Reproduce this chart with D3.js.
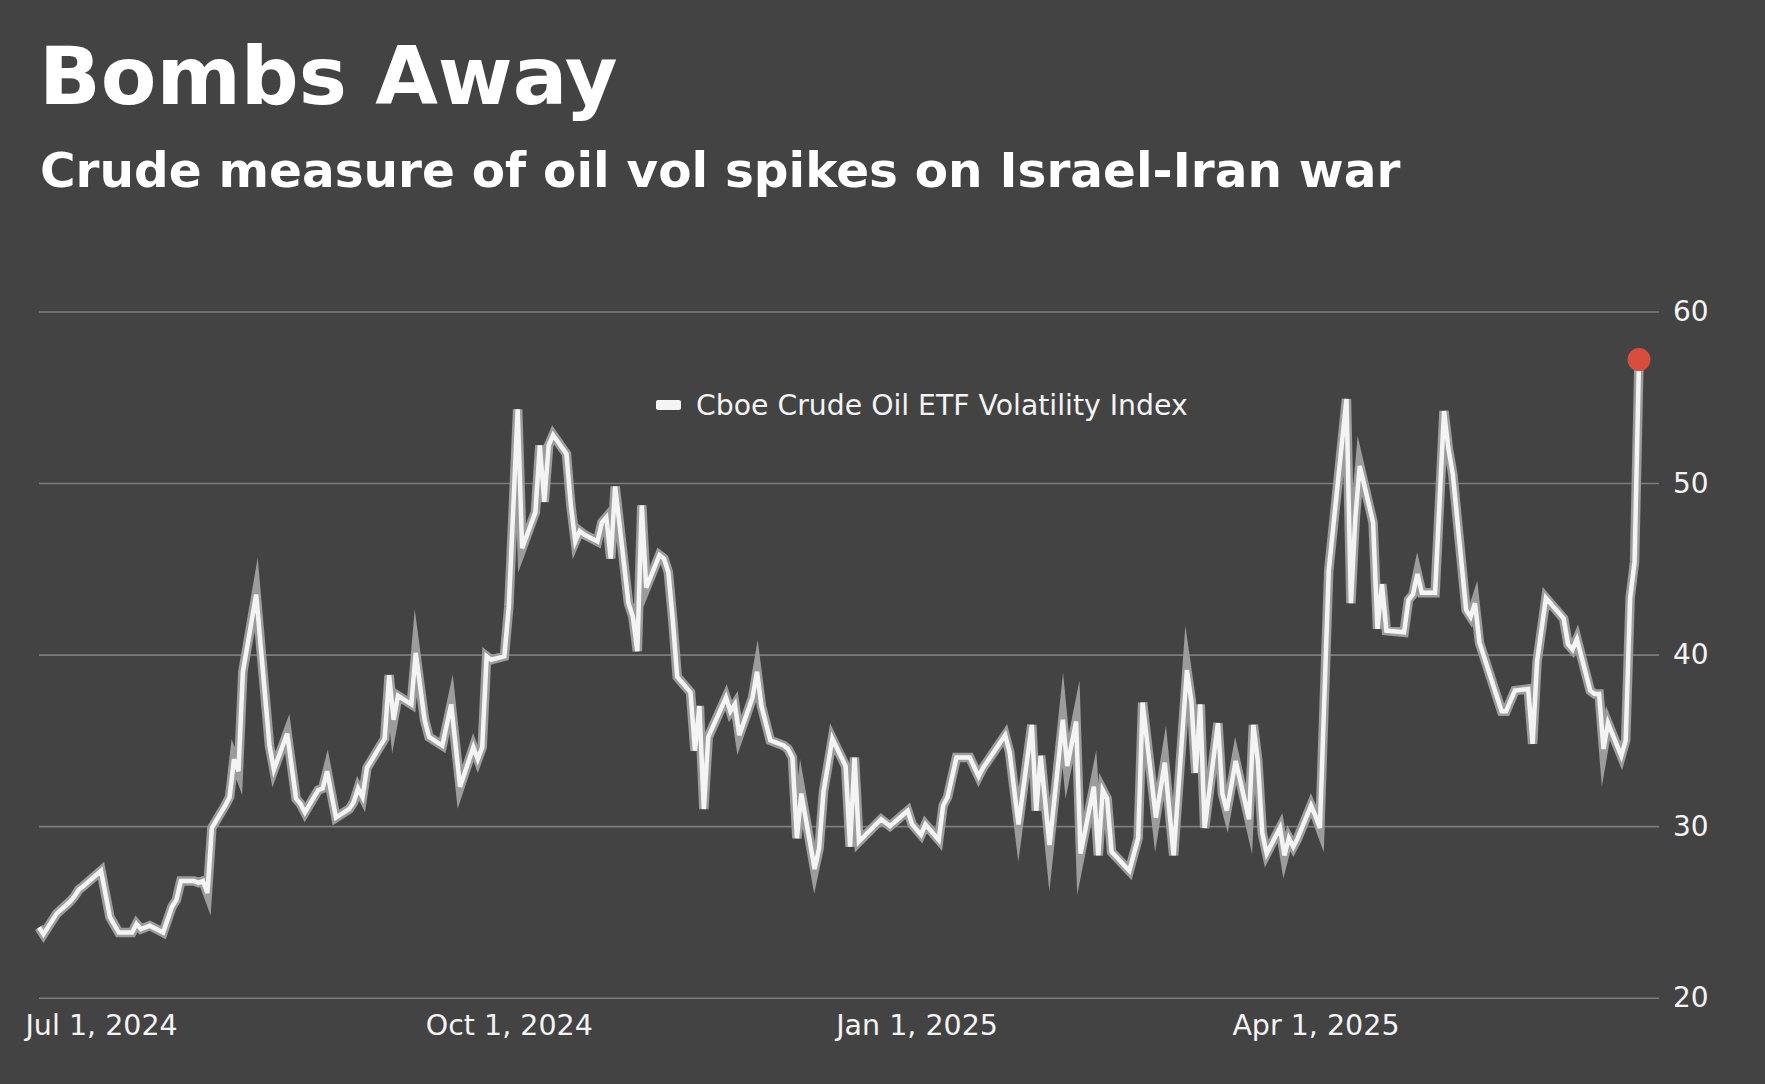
<!DOCTYPE html>
<html>
<head>
<meta charset="utf-8">
<script src="https://cdn.jsdelivr.net/npm/d3@7"></script>
<style>
  html, body { margin: 0; padding: 0; background: #434343; }
  svg { display: block; }
</style>
</head>
<body>
<div id="chart"></div>
<script>
// === Data: Cboe Crude Oil ETF Volatility Index (OVX) ===
const dates = [
  "2024-06-17","2024-06-18","2024-06-20","2024-06-21","2024-06-24","2024-06-25","2024-06-26","2024-06-27",
  "2024-07-01","2024-07-03","2024-07-05","2024-07-08","2024-07-09","2024-07-10","2024-07-12","2024-07-15",
  "2024-07-17","2024-07-18","2024-07-19","2024-07-22","2024-07-23","2024-07-24","2024-07-25","2024-07-26",
  "2024-07-29","2024-07-30","2024-07-31","2024-08-01","2024-08-02","2024-08-05","2024-08-08","2024-08-09",
  "2024-08-12","2024-08-14","2024-08-15","2024-08-16","2024-08-19","2024-08-20","2024-08-21","2024-08-23",
  "2024-08-26","2024-08-27","2024-08-28","2024-08-29","2024-08-30","2024-09-03","2024-09-04","2024-09-05",
  "2024-09-06","2024-09-09","2024-09-10","2024-09-12","2024-09-13","2024-09-16","2024-09-18","2024-09-20",
  "2024-09-23","2024-09-24","2024-09-25","2024-09-26","2024-09-27","2024-09-30","2024-10-01","2024-10-02",
  "2024-10-03","2024-10-04","2024-10-07","2024-10-08","2024-10-09","2024-10-10","2024-10-11","2024-10-14",
  "2024-10-15","2024-10-16","2024-10-17","2024-10-18","2024-10-21","2024-10-22","2024-10-23","2024-10-24",
  "2024-10-25","2024-10-28","2024-10-29","2024-10-30","2024-10-31","2024-11-01","2024-11-04","2024-11-05",
  "2024-11-06","2024-11-07","2024-11-08","2024-11-11","2024-11-12","2024-11-13","2024-11-14","2024-11-15",
  "2024-11-19","2024-11-20","2024-11-21","2024-11-22","2024-11-25","2024-11-26","2024-11-27","2024-11-29",
  "2024-12-02","2024-12-03","2024-12-04","2024-12-05","2024-12-06","2024-12-09","2024-12-10","2024-12-11",
  "2024-12-13","2024-12-16","2024-12-17","2024-12-18","2024-12-19","2024-12-24","2024-12-26","2024-12-30",
  "2024-12-31","2025-01-02","2025-01-03","2025-01-06","2025-01-07","2025-01-08","2025-01-10","2025-01-13",
  "2025-01-15","2025-01-16","2025-01-21","2025-01-22","2025-01-24","2025-01-27","2025-01-28","2025-01-29",
  "2025-01-31","2025-02-03","2025-02-04","2025-02-06","2025-02-07","2025-02-10","2025-02-11","2025-02-12",
  "2025-02-13","2025-02-14","2025-02-18","2025-02-20","2025-02-21","2025-02-24","2025-02-26","2025-02-28",
  "2025-03-03","2025-03-04","2025-03-05","2025-03-06","2025-03-07","2025-03-10","2025-03-11","2025-03-12",
  "2025-03-14","2025-03-17","2025-03-18","2025-03-19","2025-03-20","2025-03-21","2025-03-24","2025-03-25",
  "2025-03-26","2025-03-27","2025-03-28","2025-03-31","2025-04-01","2025-04-02","2025-04-04","2025-04-08",
  "2025-04-09","2025-04-10","2025-04-11","2025-04-14","2025-04-15","2025-04-16","2025-04-17","2025-04-21",
  "2025-04-22","2025-04-23","2025-04-24","2025-04-25","2025-04-28","2025-04-30","2025-05-01","2025-05-02",
  "2025-05-05","2025-05-06","2025-05-07","2025-05-08","2025-05-13","2025-05-14","2025-05-16","2025-05-19",
  "2025-05-20","2025-05-21","2025-05-23","2025-05-27","2025-05-28","2025-05-29","2025-05-30","2025-06-02",
  "2025-06-03","2025-06-04","2025-06-05","2025-06-06","2025-06-09","2025-06-10","2025-06-11","2025-06-12",
  "2025-06-13"
];

const ovx = [
  24.1, 23.7, 24.5, 24.9, 25.6, 25.9, 26.3, 26.5,
  27.4, 24.7, 23.8, 23.8, 24.3, 24.0, 24.2, 23.8,
  25.3, 25.7, 26.8, 26.8, 26.7, 26.8, 26.1, 29.9,
  31.2, 31.7, 33.9, 33.2, 39.0, 43.5, 34.7, 33.3,
  35.4, 31.6, 31.3, 30.8, 32.1, 32.2, 33.2, 30.5,
  31.0, 31.4, 32.2, 31.7, 33.4, 35.1, 38.8, 36.2,
  37.6, 37.1, 40.1, 36.2, 35.2, 34.7, 37.1, 32.3,
  34.6, 33.9, 34.6, 39.9, 39.7, 39.9, 42.8, 48.5,
  54.3, 46.2, 48.3, 52.2, 48.9, 52.2, 52.8, 51.7,
  48.7, 46.6, 47.2, 47.0, 46.6, 47.7, 48.0, 45.6,
  49.8, 43.0, 42.2, 40.2, 48.7, 43.9, 45.8, 45.6,
  44.8, 42.0, 38.7, 37.8, 34.4, 37.0, 31.0, 35.2,
  37.5, 36.7, 37.1, 35.3, 37.5, 39.0, 37.0, 35.0,
  34.7, 34.5, 34.0, 29.3, 31.9, 27.5, 28.7, 32.0,
  35.1, 33.5, 28.8, 34.0, 29.1, 30.4, 30.0, 30.9,
  30.1, 29.5, 30.1, 29.2, 31.2, 31.7, 34.0, 34.0,
  32.9, 33.4, 35.3, 34.3, 30.1, 35.9, 30.9, 34.1,
  28.9, 36.2, 33.5, 36.1, 28.4, 32.3, 28.3, 32.1,
  31.6, 28.5, 27.4, 29.3, 37.2, 30.5, 33.7, 28.3,
  39.1, 37.3, 33.1, 37.1, 29.9, 36.0, 31.9, 30.9,
  33.8, 30.4, 35.9, 33.8, 29.6, 28.4, 29.9, 28.3,
  29.3, 28.8, 29.3, 31.2, 30.6, 29.9, 44.9, 54.9,
  43.0, 48.0, 51.0, 47.7, 41.5, 44.1, 41.4, 41.3,
  43.2, 43.5, 44.7, 43.6, 43.6, 54.2, 52.0, 50.5,
  42.6, 42.2, 43.0, 40.7, 36.7, 36.7, 37.9, 38.0,
  34.8, 39.6, 43.3, 42.1, 40.6, 40.3, 40.9, 37.9,
  37.7, 37.7, 34.5, 36.0, 34.1, 35.0, 43.3, 45.4,
  57.2
];

const xTickDates = ["2024-07-01", "2024-10-01", "2025-01-01", "2025-04-01"];
const yTickValues = [20, 30, 40, 50, 60];

const seriesName = "Cboe Crude Oil ETF Volatility Index";
const titleText = "Bombs Away";
const subtitleText = "Crude measure of oil vol spikes on Israel-Iran war";

// === Chart ===
function drawChart() {
  const width = 1765;
  const height = 1084;
  const font = "'DejaVu Sans', Verdana, sans-serif";

  const parse = d3.timeParse("%Y-%m-%d");
  const data = dates.map((d, i) => ({ date: parse(d), value: ovx[i] }));

  const svg = d3.select("#chart")
    .append("svg")
    .attr("width", width)
    .attr("height", height)
    .style("background", "#434343");

  // scales
  const x = d3.scaleTime()
    .domain(d3.extent(data, (d) => d.date))
    .range([39, 1639]);

  const y = d3.scaleLinear()
    .domain([20, 60])
    .range([997.7, 311.5]);

  const gridRight = 1659;

  // === Title + subtitle ===
  svg.append("text")
    .attr("x", 39)
    .attr("y", 104)
    .attr("fill", "#ffffff")
    .style("font-family", font)
    .style("font-weight", "bold")
    .style("font-size", "81px")
    .text(titleText);

  svg.append("text")
    .attr("x", 40)
    .attr("y", 187)
    .attr("fill", "#ffffff")
    .style("font-family", font)
    .style("font-weight", "bold")
    .style("font-size", "48.5px")
    .text(subtitleText);

  // === Y axis with gridlines (labels on right) ===
  const yAxis = svg.append("g")
    .attr("transform", `translate(${gridRight},0)`)
    .call(
      d3.axisRight(y)
        .tickValues(yTickValues)
        .tickSize(-(gridRight - 39))
        .tickPadding(14)
        .tickFormat(d3.format("d"))
    );
  yAxis.select(".domain").remove();
  yAxis.selectAll(".tick line")
    .attr("stroke", "#7c7c7c")
    .attr("stroke-width", 1.6);
  yAxis.selectAll(".tick text")
    .attr("fill", "#f4f4f4")
    .style("font-family", font)
    .style("font-size", "28px");

  // === X axis ===
  const xAxis = svg.append("g")
    .attr("transform", `translate(0,${y(20)})`)
    .call(
      d3.axisBottom(x)
        .tickValues(xTickDates.map(parse))
        .tickSize(0)
        .tickPadding(17)
        .tickFormat(d3.timeFormat("%b %-d, %Y"))
    );
  xAxis.select(".domain").remove();
  xAxis.selectAll(".tick text")
    .attr("fill", "#f4f4f4")
    .style("font-family", font)
    .style("font-size", "28.5px");

  // === Line (gray halo + white core) ===
  const line = d3.line()
    .x((d) => x(d.date))
    .y((d) => y(d.value));

  svg.append("path")
    .datum(data)
    .attr("d", line)
    .attr("fill", "none")
    .attr("stroke", "#9c9c9c")
    .attr("stroke-width", 9.5)
    .attr("stroke-linejoin", "miter")
    .attr("stroke-miterlimit", 10);

  svg.append("path")
    .datum(data)
    .attr("d", line)
    .attr("fill", "none")
    .attr("stroke", "#f4f4f4")
    .attr("stroke-width", 4.5)
    .attr("stroke-linejoin", "miter");

  // === Last value marker ===
  const last = data[data.length - 1];
  svg.append("circle")
    .attr("cx", x(last.date))
    .attr("cy", y(last.value))
    .attr("r", 11.5)
    .attr("fill", "#d74e3e");

  // === Legend ===
  const legend = svg.append("g").attr("transform", "translate(656,405)");
  legend.append("rect")
    .attr("x", 0)
    .attr("y", -5)
    .attr("width", 25)
    .attr("height", 10)
    .attr("rx", 2)
    .attr("fill", "#f4f4f4");
  legend.append("text")
    .attr("x", 40)
    .attr("y", 10)
    .attr("fill", "#f4f4f4")
    .style("font-family", font)
    .style("font-size", "28.3px")
    .text(seriesName);
}

drawChart();
</script>
</body>
</html>
